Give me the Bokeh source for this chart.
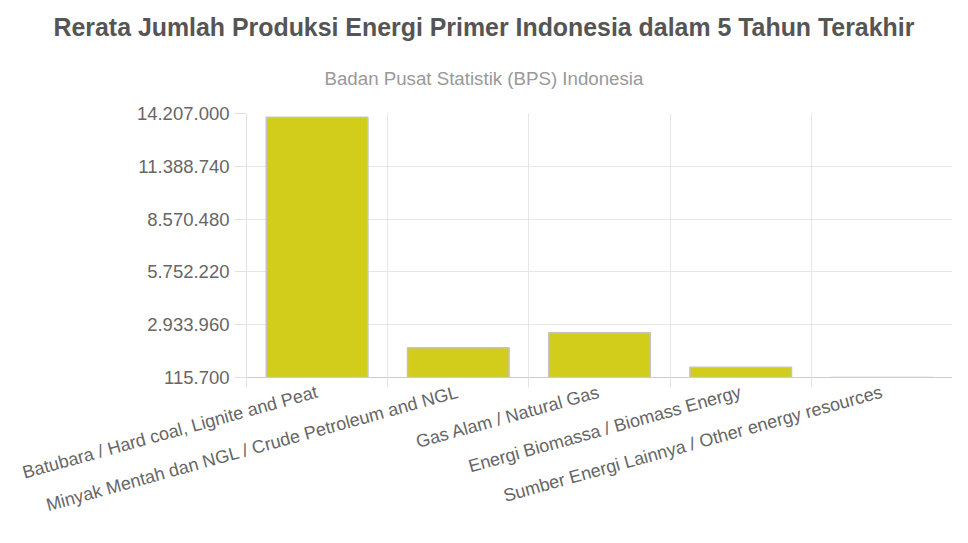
from bokeh.plotting import figure
from bokeh.models import FixedTicker, Title, Range1d
from bokeh.embed import file_html
from bokeh.resources import INLINE

categories = [
    "Batubara / Hard coal, Lignite and Peat",
    "Minyak Mentah dan NGL / Crude Petroleum and NGL",
    "Gas Alam / Natural Gas",
    "Energi Biomassa / Biomass Energy",
    "Sumber Energi Lainnya / Other energy resources",
]
values = [14010000, 1705000, 2510000, 668000, 115700]
y_ticks = [115700, 2933960, 5752220, 8570480, 11388740, 14207000]
y_tick_labels = ["115.700", "2.933.960", "5.752.220", "8.570.480", "11.388.740", "14.207.000"]

FONT = "Liberation Sans"
n = len(categories)
centers = [i + 0.5 for i in range(n)]
bounds = [float(i) for i in range(n + 1)]

p = figure(width=952, height=527, output_backend="svg", toolbar_location=None,
           x_range=Range1d(0, n), y_range=Range1d(y_ticks[0], y_ticks[-1]),
           min_border_left=246, min_border_right=0, min_border_top=0, min_border_bottom=0)

p.add_layout(Title(text="Badan Pusat Statistik (BPS) Indonesia", align="left",
                   text_font=FONT, text_font_size="18.7px", text_font_style="normal",
                   text_color="#999999", standoff=50, offset=78), "above")
p.add_layout(Title(text="Rerata Jumlah Produksi Energi Primer Indonesia dalam 5 Tahun Terakhir",
                   align="left", text_font=FONT, text_font_size="24.9px",
                   text_font_style="bold", text_color="#555555", standoff=0, offset=-193), "above")
p.add_layout(Title(text=" ", align="left", text_font=FONT, text_font_size="2px",
                   standoff=6), "above")

p.vbar(x=centers, top=values, bottom=y_ticks[0], width=0.72,
       fill_color="#d2cc1a", line_color="#c4c4c4", line_width=1.5)

p.outline_line_color = None
p.background_fill_color = "white"

xa = p.xaxis[0]
xa.ticker = FixedTicker(ticks=centers, minor_ticks=bounds)
xa.major_label_overrides = {c: name for c, name in zip(centers, categories)}
xa.major_tick_line_color = None
xa.major_tick_in = 0
xa.major_tick_out = 0
xa.minor_tick_in = 0
xa.minor_tick_out = 10
xa.minor_tick_line_color = "#e2e2e2"
xa.axis_line_color = "#cccccc"
xa.major_label_orientation = 0.27
xa.major_label_text_font = FONT
xa.major_label_text_font_size = "18px"
xa.major_label_text_color = "#666666"
xa.major_label_standoff = 4

ya = p.yaxis[0]
ya.ticker = FixedTicker(ticks=y_ticks)
ya.major_label_overrides = {t: s for t, s in zip(y_ticks, y_tick_labels)}
ya.major_tick_in = 0
ya.major_tick_out = 12
ya.major_tick_line_color = "#e2e2e2"
ya.minor_tick_line_color = None
ya.axis_line_color = "#e2e2e2"
ya.major_label_text_font = FONT
ya.major_label_text_font_size = "18.5px"
ya.major_label_text_color = "#666666"
ya.major_label_standoff = 5

p.xgrid.ticker = FixedTicker(ticks=bounds)
p.xgrid.grid_line_color = "#e6e6e6"
p.ygrid.grid_line_color = "#e6e6e6"

open("out.html", "w").write(file_html(p, INLINE))
